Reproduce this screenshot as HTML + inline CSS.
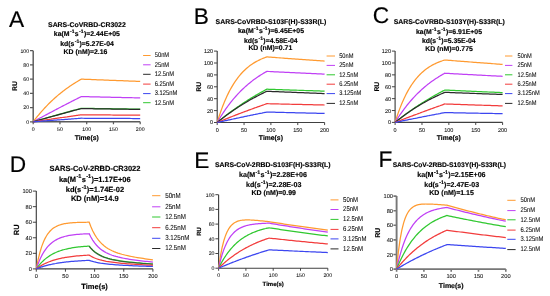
<!DOCTYPE html>
<html><head><meta charset="utf-8"><style>
html,body{margin:0;padding:0;background:#fff;width:550px;height:296px;overflow:hidden}
svg{display:block;filter:blur(0.3px)}
text{font-family:"Liberation Sans", sans-serif;stroke:currentColor;stroke-width:0.15px;text-rendering:geometricPrecision}
text.ns{stroke-width:0.08px}
</style></head><body>
<svg width="550" height="296" viewBox="0 0 550 296">
<rect width="550" height="296" fill="#fff"/>
<text x="9.08" y="26.7" font-size="22.7" fill="#000">A</text>
<text x="86.9" y="27.0" font-size="6.9" font-weight="bold" text-anchor="middle">SARS-CoVRBD-CR3022</text>
<text x="86.9" y="36.2" font-size="6.9" font-weight="bold" text-anchor="middle">ka(M<tspan dx="0.4" dy="-2.9" font-size="5.11">-1</tspan><tspan dx="0.3" dy="2.9">s</tspan><tspan dx="0.4" dy="-2.9" font-size="5.11">-1</tspan><tspan dx="0.3" dy="2.9">)=2.44E+05</tspan></text>
<text x="87" y="45.6" font-size="6.9" font-weight="bold" text-anchor="middle">kd(s<tspan dx="0.4" dy="-2.9" font-size="5.11">-1</tspan><tspan dx="0.3" dy="2.9">)=5.27E-04</tspan></text>
<text x="85.5" y="54.4" font-size="6.9" font-weight="bold" text-anchor="middle">KD (nM)=2.16</text>
<path d="M33.2,50.7 V121.8 H140.2" fill="none" stroke="#5a5a5a" stroke-width="1.45"/>
<text x="29.10" y="123.67" font-size="5.20" text-anchor="end" fill="#222" class="ns">0</text>
<text x="29.10" y="109.45" font-size="5.20" text-anchor="end" fill="#222" class="ns">20</text>
<text x="29.10" y="95.23" font-size="5.20" text-anchor="end" fill="#222" class="ns">40</text>
<text x="29.10" y="81.01" font-size="5.20" text-anchor="end" fill="#222" class="ns">60</text>
<text x="29.10" y="66.79" font-size="5.20" text-anchor="end" fill="#222" class="ns">80</text>
<text x="29.10" y="52.57" font-size="5.20" text-anchor="end" fill="#222" class="ns">100</text>
<text x="33.20" y="130.77" font-size="5.20" text-anchor="middle" fill="#222" class="ns">0</text>
<text x="59.95" y="130.77" font-size="5.20" text-anchor="middle" fill="#222" class="ns">50</text>
<text x="86.70" y="130.77" font-size="5.20" text-anchor="middle" fill="#222" class="ns">100</text>
<text x="113.45" y="130.77" font-size="5.20" text-anchor="middle" fill="#222" class="ns">150</text>
<text x="140.20" y="130.77" font-size="5.20" text-anchor="middle" fill="#222" class="ns">200</text>
<path d="M30.00,121.80 H33.2 M30.00,107.58 H33.2 M30.00,93.36 H33.2 M30.00,79.14 H33.2 M30.00,64.92 H33.2 M30.00,50.70 H33.2 M33.20,121.8 V124.36 M59.95,121.8 V124.36 M86.70,121.8 V124.36 M113.45,121.8 V124.36 M140.20,121.8 V124.36" stroke="#5a5a5a" stroke-width="1.23" fill="none"/>
<text x="86.70" y="140.3" font-size="6.8" font-weight="bold" text-anchor="middle">Time(s)</text>
<text transform="translate(16.9,86.1) rotate(-90)" x="0" y="0" font-size="6.8" font-weight="bold" text-anchor="middle">RU</text>
<path d="M33.20,121.80 L34.80,119.70 L34.98,119.47 L36.41,117.66 L36.77,117.21 L38.02,115.68 L38.55,115.03 L39.62,113.75 L40.33,112.91 L41.23,111.88 L42.12,110.86 L42.83,110.06 L43.90,108.88 L44.44,108.30 L45.68,106.96 L46.04,106.58 L47.47,105.10 L47.65,104.92 L49.25,103.30 L50.86,101.73 L51.03,101.56 L52.46,100.21 L52.82,99.87 L54.06,98.72 L54.60,98.24 L55.67,97.29 L56.38,96.66 L57.27,95.89 L58.17,95.13 L58.88,94.53 L59.95,93.65 L60.48,93.21 L61.73,92.21 L62.09,91.93 L63.52,90.82 L63.69,90.68 L65.30,89.48 L66.91,88.30 L67.08,88.17 L68.51,87.16 L68.87,86.91 L70.11,86.05 L70.65,85.69 L71.72,84.98 L72.43,84.51 L73.32,83.93 L74.22,83.37 L74.93,82.92 L76.00,82.26 L76.53,81.93 L77.78,81.18 L78.14,80.97 L79.57,80.15 L79.74,80.04 L81.35,79.14 L83.13,79.21 L84.92,79.28 L86.70,79.35 L88.48,79.42 L90.27,79.49 L92.05,79.56 L93.83,79.63 L95.62,79.71 L97.40,79.78 L99.18,79.85 L100.97,79.91 L102.75,79.98 L104.53,80.05 L106.32,80.12 L108.10,80.19 L109.88,80.26 L111.67,80.33 L113.45,80.40 L115.23,80.47 L117.02,80.54 L118.80,80.61 L120.58,80.68 L122.37,80.74 L124.15,80.81 L125.93,80.88 L127.72,80.95 L129.50,81.02 L131.28,81.09 L133.07,81.15 L134.85,81.22 L136.63,81.29 L138.42,81.36 L140.20,81.42" fill="none" stroke="#FF9A30" stroke-width="1.25" stroke-opacity="1"/>
<path d="M33.20,121.80 L34.80,120.92 L34.98,120.82 L36.41,120.05 L36.77,119.85 L38.02,119.17 L38.55,118.88 L39.62,118.30 L40.33,117.92 L41.23,117.43 L42.12,116.95 L42.83,116.57 L43.90,115.99 L44.44,115.71 L45.68,115.04 L46.04,114.85 L47.47,114.08 L47.65,113.99 L49.25,113.13 L50.86,112.28 L51.03,112.19 L52.46,111.43 L52.82,111.24 L54.06,110.58 L54.60,110.30 L55.67,109.74 L56.38,109.36 L57.27,108.90 L58.17,108.43 L58.88,108.06 L59.95,107.50 L60.48,107.22 L61.73,106.57 L62.09,106.38 L63.52,105.64 L63.69,105.55 L65.30,104.72 L66.91,103.89 L67.08,103.80 L68.51,103.07 L68.87,102.89 L70.11,102.25 L70.65,101.97 L71.72,101.43 L72.43,101.06 L73.32,100.61 L74.22,100.16 L74.93,99.80 L76.00,99.25 L76.53,98.98 L77.78,98.35 L78.14,98.17 L79.57,97.45 L79.74,97.36 L81.35,96.56 L83.13,96.60 L84.92,96.64 L86.70,96.69 L88.48,96.73 L90.27,96.77 L92.05,96.81 L93.83,96.85 L95.62,96.89 L97.40,96.94 L99.18,96.98 L100.97,97.02 L102.75,97.06 L104.53,97.10 L106.32,97.14 L108.10,97.18 L109.88,97.22 L111.67,97.26 L113.45,97.31 L115.23,97.35 L117.02,97.39 L118.80,97.43 L120.58,97.47 L122.37,97.51 L124.15,97.55 L125.93,97.59 L127.72,97.63 L129.50,97.67 L131.28,97.71 L133.07,97.75 L134.85,97.79 L136.63,97.83 L138.42,97.87 L140.20,97.91" fill="none" stroke="#C040F5" stroke-width="1.25" stroke-opacity="1"/>
<path d="M33.20,121.80 L34.80,121.33 L34.98,121.28 L36.41,120.86 L36.77,120.76 L38.02,120.39 L38.55,120.24 L39.62,119.93 L40.33,119.72 L41.23,119.46 L42.12,119.21 L42.83,119.00 L43.90,118.69 L44.44,118.54 L45.68,118.18 L46.04,118.08 L47.47,117.67 L47.65,117.62 L49.25,117.16 L50.86,116.70 L51.03,116.65 L52.46,116.25 L52.82,116.15 L54.06,115.80 L54.60,115.65 L55.67,115.34 L56.38,115.14 L57.27,114.89 L58.17,114.64 L58.88,114.44 L59.95,114.15 L60.48,114.00 L61.73,113.65 L62.09,113.55 L63.52,113.15 L63.69,113.10 L65.30,112.66 L66.91,112.22 L67.08,112.17 L68.51,111.78 L68.87,111.68 L70.11,111.34 L70.65,111.19 L71.72,110.90 L72.43,110.70 L73.32,110.46 L74.22,110.22 L74.93,110.02 L76.00,109.73 L76.53,109.59 L77.78,109.25 L78.14,109.15 L79.57,108.77 L79.74,108.72 L81.35,108.29 L83.13,108.32 L84.92,108.34 L86.70,108.37 L88.48,108.40 L90.27,108.43 L92.05,108.45 L93.83,108.48 L95.62,108.51 L97.40,108.53 L99.18,108.56 L100.97,108.58 L102.75,108.61 L104.53,108.64 L106.32,108.66 L108.10,108.69 L109.88,108.72 L111.67,108.74 L113.45,108.77 L115.23,108.79 L117.02,108.82 L118.80,108.85 L120.58,108.87 L122.37,108.90 L124.15,108.92 L125.93,108.95 L127.72,108.98 L129.50,109.00 L131.28,109.03 L133.07,109.05 L134.85,109.08 L136.63,109.10 L138.42,109.13 L140.20,109.15" fill="none" stroke="#30C830" stroke-width="1.25" stroke-opacity="1"/>
<path d="M33.20,121.80 L34.80,121.34 L34.98,121.29 L36.41,120.88 L36.77,120.78 L38.02,120.42 L38.55,120.27 L39.62,119.97 L40.33,119.76 L41.23,119.51 L42.12,119.26 L42.83,119.06 L43.90,118.76 L44.44,118.61 L45.68,118.26 L46.04,118.16 L47.47,117.76 L47.65,117.71 L49.25,117.26 L50.86,116.81 L51.03,116.76 L52.46,116.37 L52.82,116.27 L54.06,115.92 L54.60,115.78 L55.67,115.48 L56.38,115.28 L57.27,115.04 L58.17,114.79 L58.88,114.60 L59.95,114.31 L60.48,114.16 L61.73,113.82 L62.09,113.72 L63.52,113.34 L63.69,113.29 L65.30,112.85 L66.91,112.42 L67.08,112.37 L68.51,111.99 L68.87,111.89 L70.11,111.56 L70.65,111.41 L71.72,111.13 L72.43,110.94 L73.32,110.70 L74.22,110.46 L74.93,110.27 L76.00,109.99 L76.53,109.84 L77.78,109.51 L78.14,109.42 L79.57,109.04 L79.74,109.00 L81.35,108.58 L83.13,108.60 L84.92,108.63 L86.70,108.65 L88.48,108.68 L90.27,108.71 L92.05,108.73 L93.83,108.76 L95.62,108.79 L97.40,108.81 L99.18,108.84 L100.97,108.86 L102.75,108.89 L104.53,108.91 L106.32,108.94 L108.10,108.97 L109.88,108.99 L111.67,109.02 L113.45,109.04 L115.23,109.07 L117.02,109.09 L118.80,109.12 L120.58,109.14 L122.37,109.17 L124.15,109.20 L125.93,109.22 L127.72,109.25 L129.50,109.27 L131.28,109.30 L133.07,109.32 L134.85,109.35 L136.63,109.37 L138.42,109.40 L140.20,109.42" fill="none" stroke="#2a2a2a" stroke-width="1.25" stroke-opacity="1"/>
<path d="M33.20,121.80 L34.80,121.56 L34.98,121.53 L36.41,121.31 L36.77,121.26 L38.02,121.07 L38.55,120.99 L39.62,120.82 L40.33,120.72 L41.23,120.58 L42.12,120.45 L42.83,120.34 L43.90,120.18 L44.44,120.10 L45.68,119.91 L46.04,119.86 L47.47,119.65 L47.65,119.62 L49.25,119.38 L50.86,119.15 L51.03,119.12 L52.46,118.91 L52.82,118.86 L54.06,118.67 L54.60,118.59 L55.67,118.44 L56.38,118.33 L57.27,118.20 L58.17,118.07 L58.88,117.97 L59.95,117.81 L60.48,117.73 L61.73,117.55 L62.09,117.50 L63.52,117.29 L63.69,117.27 L65.30,117.04 L66.91,116.81 L67.08,116.78 L68.51,116.58 L68.87,116.53 L70.11,116.35 L70.65,116.27 L71.72,116.12 L72.43,116.02 L73.32,115.89 L74.22,115.76 L74.93,115.66 L76.00,115.51 L76.53,115.44 L77.78,115.26 L78.14,115.21 L79.57,115.01 L79.74,114.99 L81.35,114.76 L83.13,114.78 L84.92,114.79 L86.70,114.80 L88.48,114.82 L90.27,114.83 L92.05,114.85 L93.83,114.86 L95.62,114.87 L97.40,114.89 L99.18,114.90 L100.97,114.91 L102.75,114.93 L104.53,114.94 L106.32,114.96 L108.10,114.97 L109.88,114.98 L111.67,115.00 L113.45,115.01 L115.23,115.02 L117.02,115.04 L118.80,115.05 L120.58,115.06 L122.37,115.08 L124.15,115.09 L125.93,115.10 L127.72,115.12 L129.50,115.13 L131.28,115.14 L133.07,115.16 L134.85,115.17 L136.63,115.18 L138.42,115.20 L140.20,115.21" fill="none" stroke="#F23C3C" stroke-width="1.25" stroke-opacity="1"/>
<path d="M33.20,121.80 L34.80,121.68 L34.98,121.66 L36.41,121.55 L36.77,121.53 L38.02,121.43 L38.55,121.39 L39.62,121.31 L40.33,121.25 L41.23,121.19 L42.12,121.12 L42.83,121.06 L43.90,120.98 L44.44,120.94 L45.68,120.85 L46.04,120.82 L47.47,120.71 L47.65,120.70 L49.25,120.58 L50.86,120.46 L51.03,120.45 L52.46,120.34 L52.82,120.31 L54.06,120.22 L54.60,120.18 L55.67,120.10 L56.38,120.05 L57.27,119.98 L58.17,119.92 L58.88,119.86 L59.95,119.79 L60.48,119.75 L61.73,119.65 L62.09,119.63 L63.52,119.52 L63.69,119.51 L65.30,119.39 L66.91,119.28 L67.08,119.27 L68.51,119.16 L68.87,119.14 L70.11,119.05 L70.65,119.01 L71.72,118.93 L72.43,118.88 L73.32,118.82 L74.22,118.75 L74.93,118.70 L76.00,118.62 L76.53,118.59 L77.78,118.50 L78.14,118.47 L79.57,118.37 L79.74,118.36 L81.35,118.24 L83.13,118.25 L84.92,118.26 L86.70,118.27 L88.48,118.28 L90.27,118.29 L92.05,118.30 L93.83,118.31 L95.62,118.32 L97.40,118.33 L99.18,118.34 L100.97,118.35 L102.75,118.36 L104.53,118.37 L106.32,118.38 L108.10,118.38 L109.88,118.39 L111.67,118.40 L113.45,118.41 L115.23,118.42 L117.02,118.43 L118.80,118.44 L120.58,118.45 L122.37,118.46 L124.15,118.47 L125.93,118.47 L127.72,118.48 L129.50,118.49 L131.28,118.50 L133.07,118.51 L134.85,118.52 L136.63,118.53 L138.42,118.54 L140.20,118.54" fill="none" stroke="#3C46F0" stroke-width="1.25" stroke-opacity="1"/>
<path d="M143.1,55.5 H150.6" stroke="#FF9A30" stroke-width="1.0"/>
<text x="154.70" y="57.31" font-size="6.84" textLength="14.51" lengthAdjust="spacingAndGlyphs" fill="#111" class="ns">50nM</text>
<path d="M143.1,64.8 H150.6" stroke="#C040F5" stroke-width="1.0"/>
<text x="154.70" y="66.61" font-size="6.84" textLength="14.51" lengthAdjust="spacingAndGlyphs" fill="#111" class="ns">25nM</text>
<path d="M143.1,74.3 H150.6" stroke="#2a2a2a" stroke-width="1.0"/>
<text x="154.70" y="76.11" font-size="6.84" textLength="19.34" lengthAdjust="spacingAndGlyphs" fill="#111" class="ns">12.5nM</text>
<path d="M143.1,84.1 H150.6" stroke="#F23C3C" stroke-width="1.0"/>
<text x="154.70" y="85.91" font-size="6.84" textLength="19.34" lengthAdjust="spacingAndGlyphs" fill="#111" class="ns">6.25nM</text>
<path d="M143.1,93.6 H150.6" stroke="#3C46F0" stroke-width="1.0"/>
<text x="154.70" y="95.41" font-size="6.84" textLength="22.57" lengthAdjust="spacingAndGlyphs" fill="#111" class="ns">3.125nM</text>
<path d="M143.1,102.7 H150.6" stroke="#30C830" stroke-width="1.0"/>
<text x="154.70" y="104.51" font-size="6.84" textLength="19.34" lengthAdjust="spacingAndGlyphs" fill="#111" class="ns">12.5nM</text>
<text x="193.85" y="23.5" font-size="22.7" fill="#000">B</text>
<text x="270.9" y="23.5" font-size="6.9" font-weight="bold" text-anchor="middle">SARS-CoVRBD-S103F(H)-S33R(L)</text>
<text x="271" y="33.1" font-size="6.9" font-weight="bold" text-anchor="middle">ka(M<tspan dx="0.4" dy="-2.9" font-size="5.11">-1</tspan><tspan dx="0.3" dy="2.9">s</tspan><tspan dx="0.4" dy="-2.9" font-size="5.11">-1</tspan><tspan dx="0.3" dy="2.9">)=6.45E+05</tspan></text>
<text x="270.8" y="42.5" font-size="6.9" font-weight="bold" text-anchor="middle">kd(s<tspan dx="0.4" dy="-2.9" font-size="5.11">-1</tspan><tspan dx="0.3" dy="2.9">)=4.58E-04</tspan></text>
<text x="270.3" y="50.3" font-size="6.9" font-weight="bold" text-anchor="middle">KD (nM)=0.71</text>
<path d="M217.2,51.1 V122.5 H324.6" fill="none" stroke="#404040" stroke-width="1.15"/>
<text x="213.10" y="124.48" font-size="5.51" text-anchor="end" fill="#222" class="ns">0</text>
<text x="213.10" y="112.58" font-size="5.51" text-anchor="end" fill="#222" class="ns">20</text>
<text x="213.10" y="100.68" font-size="5.51" text-anchor="end" fill="#222" class="ns">40</text>
<text x="213.10" y="88.78" font-size="5.51" text-anchor="end" fill="#222" class="ns">60</text>
<text x="213.10" y="76.88" font-size="5.51" text-anchor="end" fill="#222" class="ns">80</text>
<text x="213.10" y="64.98" font-size="5.51" text-anchor="end" fill="#222" class="ns">100</text>
<text x="213.10" y="53.08" font-size="5.51" text-anchor="end" fill="#222" class="ns">120</text>
<text x="217.20" y="131.78" font-size="5.51" text-anchor="middle" fill="#222" class="ns">0</text>
<text x="244.05" y="131.78" font-size="5.51" text-anchor="middle" fill="#222" class="ns">50</text>
<text x="270.90" y="131.78" font-size="5.51" text-anchor="middle" fill="#222" class="ns">100</text>
<text x="297.75" y="131.78" font-size="5.51" text-anchor="middle" fill="#222" class="ns">150</text>
<text x="324.60" y="131.78" font-size="5.51" text-anchor="middle" fill="#222" class="ns">200</text>
<path d="M214.00,122.50 H217.2 M214.00,110.60 H217.2 M214.00,98.70 H217.2 M214.00,86.80 H217.2 M214.00,74.90 H217.2 M214.00,63.00 H217.2 M214.00,51.10 H217.2 M217.20,122.5 V125.06 M244.05,122.5 V125.06 M270.90,122.5 V125.06 M297.75,122.5 V125.06 M324.60,122.5 V125.06" stroke="#404040" stroke-width="0.98" fill="none"/>
<text x="270.90" y="140.3" font-size="6.8" font-weight="bold" text-anchor="middle">Time(s)</text>
<text transform="translate(201.0,86.75) rotate(-90)" x="0" y="0" font-size="6.8" font-weight="bold" text-anchor="middle">RU</text>
<path d="M217.20,122.50 L218.86,117.18 L218.99,116.76 L220.51,112.24 L220.78,111.47 L222.17,107.65 L222.57,106.59 L223.82,103.40 L224.36,102.09 L225.48,99.45 L226.15,97.94 L227.13,95.79 L227.94,94.11 L228.79,92.40 L229.73,90.58 L230.45,89.25 L231.52,87.33 L232.10,86.33 L233.31,84.33 L233.76,83.62 L235.10,81.57 L235.41,81.11 L236.89,79.02 L237.07,78.78 L238.68,76.68 L238.72,76.62 L240.38,74.62 L240.47,74.52 L242.04,72.77 L242.26,72.53 L243.69,71.05 L244.05,70.70 L245.35,69.46 L245.84,69.01 L247.00,67.98 L247.63,67.46 L248.66,66.62 L249.42,66.03 L250.31,65.36 L251.21,64.71 L251.97,64.19 L253.00,63.50 L253.63,63.11 L254.79,62.39 L255.28,62.10 L256.58,61.37 L256.94,61.18 L258.37,60.43 L258.59,60.32 L260.16,59.57 L260.25,59.53 L261.91,58.80 L261.95,58.78 L263.56,58.13 L263.74,58.06 L265.22,57.51 L265.53,57.39 L266.87,56.93 L267.32,56.96 L269.11,57.09 L270.90,57.23 L272.69,57.36 L274.48,57.49 L276.27,57.62 L278.06,57.75 L279.85,57.87 L281.64,58.00 L283.43,58.13 L285.22,58.26 L287.01,58.39 L288.80,58.52 L290.59,58.65 L292.38,58.77 L294.17,58.90 L295.96,59.03 L297.75,59.15 L299.54,59.28 L301.33,59.41 L303.12,59.53 L304.91,59.66 L306.70,59.78 L308.49,59.91 L310.28,60.04 L312.07,60.16 L313.86,60.28 L315.65,60.41 L317.44,60.53 L319.23,60.66 L321.02,60.78 L322.81,60.90 L324.60,61.03" fill="none" stroke="#FF9A30" stroke-width="1.25" stroke-opacity="1"/>
<path d="M217.20,122.50 L218.86,119.68 L218.99,119.46 L220.51,116.97 L220.78,116.54 L222.17,114.36 L222.57,113.74 L223.82,111.85 L224.36,111.05 L225.48,109.43 L226.15,108.47 L227.13,107.10 L227.94,106.00 L228.79,104.87 L229.73,103.63 L230.45,102.71 L231.52,101.36 L232.10,100.64 L233.31,99.18 L233.76,98.65 L235.10,97.09 L235.41,96.73 L236.89,95.08 L237.07,94.88 L238.68,93.16 L238.72,93.11 L240.38,91.40 L240.47,91.31 L242.04,89.76 L242.26,89.54 L243.69,88.18 L244.05,87.84 L245.35,86.65 L245.84,86.21 L247.00,85.19 L247.63,84.65 L248.66,83.78 L249.42,83.15 L250.31,82.42 L251.21,81.71 L251.97,81.12 L253.00,80.33 L253.63,79.86 L254.79,79.01 L255.28,78.66 L256.58,77.74 L256.94,77.49 L258.37,76.53 L258.59,76.38 L260.16,75.36 L260.25,75.30 L261.91,74.27 L261.95,74.24 L263.56,73.27 L263.74,73.16 L265.22,72.31 L265.53,72.13 L266.87,71.39 L267.32,71.41 L269.11,71.50 L270.90,71.58 L272.69,71.67 L274.48,71.76 L276.27,71.84 L278.06,71.93 L279.85,72.02 L281.64,72.10 L283.43,72.19 L285.22,72.27 L287.01,72.36 L288.80,72.44 L290.59,72.53 L292.38,72.61 L294.17,72.70 L295.96,72.78 L297.75,72.87 L299.54,72.95 L301.33,73.04 L303.12,73.12 L304.91,73.20 L306.70,73.29 L308.49,73.37 L310.28,73.45 L312.07,73.54 L313.86,73.62 L315.65,73.70 L317.44,73.79 L319.23,73.87 L321.02,73.95 L322.81,74.03 L324.60,74.12" fill="none" stroke="#C040F5" stroke-width="1.25" stroke-opacity="1"/>
<path d="M217.20,122.50 L218.86,121.12 L218.99,121.01 L220.51,119.77 L220.78,119.55 L222.17,118.43 L222.57,118.11 L223.82,117.12 L224.36,116.70 L225.48,115.82 L226.15,115.31 L227.13,114.55 L227.94,113.94 L228.79,113.29 L229.73,112.59 L230.45,112.06 L231.52,111.27 L232.10,110.84 L233.31,109.97 L233.76,109.64 L235.10,108.69 L235.41,108.46 L236.89,107.43 L237.07,107.30 L238.68,106.19 L238.72,106.16 L240.38,105.03 L240.47,104.97 L242.04,103.92 L242.26,103.77 L243.69,102.83 L244.05,102.60 L245.35,101.75 L245.84,101.44 L247.00,100.69 L247.63,100.30 L248.66,99.65 L249.42,99.18 L250.31,98.62 L251.21,98.08 L251.97,97.61 L253.00,96.99 L253.63,96.62 L254.79,95.93 L255.28,95.64 L256.58,94.88 L256.94,94.67 L258.37,93.85 L258.59,93.72 L260.16,92.83 L260.25,92.78 L261.91,91.86 L261.95,91.84 L263.56,90.95 L263.74,90.86 L265.22,90.06 L265.53,89.89 L266.87,89.18 L267.32,89.20 L269.11,89.26 L270.90,89.32 L272.69,89.39 L274.48,89.45 L276.27,89.51 L278.06,89.57 L279.85,89.64 L281.64,89.70 L283.43,89.76 L285.22,89.82 L287.01,89.88 L288.80,89.95 L290.59,90.01 L292.38,90.07 L294.17,90.13 L295.96,90.19 L297.75,90.25 L299.54,90.32 L301.33,90.38 L303.12,90.44 L304.91,90.50 L306.70,90.56 L308.49,90.62 L310.28,90.68 L312.07,90.74 L313.86,90.80 L315.65,90.86 L317.44,90.92 L319.23,90.98 L321.02,91.04 L322.81,91.10 L324.60,91.16" fill="none" stroke="#30C830" stroke-width="1.25" stroke-opacity="1"/>
<path d="M217.20,122.50 L218.86,121.16 L218.99,121.05 L220.51,119.84 L220.78,119.62 L222.17,118.54 L222.57,118.23 L223.82,117.27 L224.36,116.86 L225.48,116.02 L226.15,115.52 L227.13,114.79 L227.94,114.21 L228.79,113.59 L229.73,112.92 L230.45,112.41 L231.52,111.66 L232.10,111.25 L233.31,110.42 L233.76,110.11 L235.10,109.21 L235.41,109.00 L236.89,108.02 L237.07,107.90 L238.68,106.85 L238.72,106.82 L240.38,105.77 L240.47,105.71 L242.04,104.73 L242.26,104.59 L243.69,103.71 L244.05,103.49 L245.35,102.71 L245.84,102.42 L247.00,101.73 L247.63,101.36 L248.66,100.76 L249.42,100.33 L250.31,99.82 L251.21,99.31 L251.97,98.89 L253.00,98.32 L253.63,97.98 L254.79,97.35 L255.28,97.08 L256.58,96.39 L256.94,96.21 L258.37,95.46 L258.59,95.34 L260.16,94.54 L260.25,94.50 L261.91,93.67 L261.95,93.64 L263.56,92.85 L263.74,92.76 L265.22,92.05 L265.53,91.90 L266.87,91.26 L267.32,91.28 L269.11,91.36 L270.90,91.43 L272.69,91.51 L274.48,91.58 L276.27,91.65 L278.06,91.73 L279.85,91.80 L281.64,91.87 L283.43,91.95 L285.22,92.02 L287.01,92.09 L288.80,92.17 L290.59,92.24 L292.38,92.31 L294.17,92.39 L295.96,92.46 L297.75,92.53 L299.54,92.60 L301.33,92.67 L303.12,92.74 L304.91,92.82 L306.70,92.89 L308.49,92.96 L310.28,93.03 L312.07,93.10 L313.86,93.17 L315.65,93.24 L317.44,93.31 L319.23,93.38 L321.02,93.45 L322.81,93.52 L324.60,93.59" fill="none" stroke="#2a2a2a" stroke-width="1.25" stroke-opacity="1"/>
<path d="M217.20,122.50 L218.86,121.82 L218.99,121.76 L220.51,121.14 L220.78,121.03 L222.17,120.46 L222.57,120.30 L223.82,119.79 L224.36,119.57 L225.48,119.12 L226.15,118.85 L227.13,118.46 L227.94,118.13 L228.79,117.80 L229.73,117.42 L230.45,117.14 L231.52,116.72 L232.10,116.49 L233.31,116.02 L233.76,115.84 L235.10,115.32 L235.41,115.20 L236.89,114.63 L237.07,114.56 L238.68,113.94 L238.72,113.92 L240.38,113.29 L240.47,113.26 L242.04,112.66 L242.26,112.58 L243.69,112.04 L244.05,111.91 L245.35,111.42 L245.84,111.24 L247.00,110.80 L247.63,110.57 L248.66,110.19 L249.42,109.91 L250.31,109.58 L251.21,109.26 L251.97,108.98 L253.00,108.60 L253.63,108.38 L254.79,107.96 L255.28,107.78 L256.58,107.31 L256.94,107.19 L258.37,106.67 L258.59,106.60 L260.16,106.04 L260.25,106.01 L261.91,105.43 L261.95,105.41 L263.56,104.85 L263.74,104.78 L265.22,104.27 L265.53,104.16 L266.87,103.70 L267.32,103.71 L269.11,103.75 L270.90,103.79 L272.69,103.83 L274.48,103.88 L276.27,103.92 L278.06,103.96 L279.85,104.00 L281.64,104.04 L283.43,104.08 L285.22,104.12 L287.01,104.16 L288.80,104.21 L290.59,104.25 L292.38,104.29 L294.17,104.33 L295.96,104.37 L297.75,104.41 L299.54,104.45 L301.33,104.49 L303.12,104.53 L304.91,104.57 L306.70,104.61 L308.49,104.65 L310.28,104.69 L312.07,104.73 L313.86,104.77 L315.65,104.81 L317.44,104.85 L319.23,104.89 L321.02,104.93 L322.81,104.97 L324.60,105.00" fill="none" stroke="#F23C3C" stroke-width="1.25" stroke-opacity="1"/>
<path d="M217.20,122.50 L218.86,122.14 L218.99,122.11 L220.51,121.77 L220.78,121.71 L222.17,121.41 L222.57,121.32 L223.82,121.05 L224.36,120.93 L225.48,120.69 L226.15,120.54 L227.13,120.33 L227.94,120.15 L228.79,119.97 L229.73,119.77 L230.45,119.61 L231.52,119.38 L232.10,119.26 L233.31,119.00 L233.76,118.90 L235.10,118.61 L235.41,118.55 L236.89,118.23 L237.07,118.19 L238.68,117.85 L238.72,117.84 L240.38,117.49 L240.47,117.47 L242.04,117.14 L242.26,117.10 L243.69,116.79 L244.05,116.72 L245.35,116.45 L245.84,116.34 L247.00,116.10 L247.63,115.97 L248.66,115.76 L249.42,115.60 L250.31,115.41 L251.21,115.23 L251.97,115.07 L253.00,114.86 L253.63,114.73 L254.79,114.49 L255.28,114.39 L256.58,114.12 L256.94,114.05 L258.37,113.75 L258.59,113.71 L260.16,113.39 L260.25,113.37 L261.91,113.03 L261.95,113.02 L263.56,112.70 L263.74,112.66 L265.22,112.36 L265.53,112.30 L266.87,112.03 L267.32,112.04 L269.11,112.09 L270.90,112.13 L272.69,112.18 L274.48,112.23 L276.27,112.27 L278.06,112.32 L279.85,112.37 L281.64,112.41 L283.43,112.46 L285.22,112.50 L287.01,112.55 L288.80,112.59 L290.59,112.64 L292.38,112.68 L294.17,112.73 L295.96,112.77 L297.75,112.82 L299.54,112.86 L301.33,112.90 L303.12,112.95 L304.91,112.99 L306.70,113.03 L308.49,113.08 L310.28,113.12 L312.07,113.16 L313.86,113.20 L315.65,113.24 L317.44,113.29 L319.23,113.33 L321.02,113.37 L322.81,113.41 L324.60,113.45" fill="none" stroke="#3C46F0" stroke-width="1.25" stroke-opacity="1"/>
<path d="M326.6,56 H335" stroke="#FF9A30" stroke-width="1.0"/>
<text x="339.20" y="57.78" font-size="6.73" textLength="14.26" lengthAdjust="spacingAndGlyphs" fill="#111" class="ns">50nM</text>
<path d="M326.6,65.4 H335" stroke="#C040F5" stroke-width="1.0"/>
<text x="339.20" y="67.18" font-size="6.73" textLength="14.26" lengthAdjust="spacingAndGlyphs" fill="#111" class="ns">25nM</text>
<path d="M326.6,74.8 H335" stroke="#30C830" stroke-width="1.0"/>
<text x="339.20" y="76.58" font-size="6.73" textLength="19.01" lengthAdjust="spacingAndGlyphs" fill="#111" class="ns">12.5nM</text>
<path d="M326.6,84.2 H335" stroke="#F23C3C" stroke-width="1.0"/>
<text x="339.20" y="85.98" font-size="6.73" textLength="19.01" lengthAdjust="spacingAndGlyphs" fill="#111" class="ns">6.25nM</text>
<path d="M326.6,93.6 H335" stroke="#3C46F0" stroke-width="1.0"/>
<text x="339.20" y="95.38" font-size="6.73" textLength="22.18" lengthAdjust="spacingAndGlyphs" fill="#111" class="ns">3.125nM</text>
<path d="M326.6,103.4 H335" stroke="#2a2a2a" stroke-width="1.0"/>
<text x="339.20" y="105.18" font-size="6.73" textLength="19.01" lengthAdjust="spacingAndGlyphs" fill="#111" class="ns">12.5nM</text>
<text x="372.76" y="23.3" font-size="22.7" fill="#000">C</text>
<text x="449.2" y="24.1" font-size="6.9" font-weight="bold" text-anchor="middle">SARS-CoVRBD-S103Y(H)-S33R(L)</text>
<text x="449" y="33.8" font-size="6.9" font-weight="bold" text-anchor="middle">ka(M<tspan dx="0.4" dy="-2.9" font-size="5.11">-1</tspan><tspan dx="0.3" dy="2.9">s</tspan><tspan dx="0.4" dy="-2.9" font-size="5.11">-1</tspan><tspan dx="0.3" dy="2.9">)=6.91E+05</tspan></text>
<text x="448.8" y="43.3" font-size="6.9" font-weight="bold" text-anchor="middle">kd(s<tspan dx="0.4" dy="-2.9" font-size="5.11">-1</tspan><tspan dx="0.3" dy="2.9">)=5.35E-04</tspan></text>
<text x="449" y="51.0" font-size="6.9" font-weight="bold" text-anchor="middle">KD (nM)=0.775</text>
<path d="M395.1,51.1 V122.4 H502.6" fill="none" stroke="#404040" stroke-width="1.15"/>
<text x="391.00" y="124.38" font-size="5.51" text-anchor="end" fill="#222" class="ns">0</text>
<text x="391.00" y="112.50" font-size="5.51" text-anchor="end" fill="#222" class="ns">20</text>
<text x="391.00" y="100.62" font-size="5.51" text-anchor="end" fill="#222" class="ns">40</text>
<text x="391.00" y="88.73" font-size="5.51" text-anchor="end" fill="#222" class="ns">60</text>
<text x="391.00" y="76.85" font-size="5.51" text-anchor="end" fill="#222" class="ns">80</text>
<text x="391.00" y="64.97" font-size="5.51" text-anchor="end" fill="#222" class="ns">100</text>
<text x="391.00" y="53.08" font-size="5.51" text-anchor="end" fill="#222" class="ns">120</text>
<text x="395.10" y="131.78" font-size="5.51" text-anchor="middle" fill="#222" class="ns">0</text>
<text x="421.98" y="131.78" font-size="5.51" text-anchor="middle" fill="#222" class="ns">50</text>
<text x="448.85" y="131.78" font-size="5.51" text-anchor="middle" fill="#222" class="ns">100</text>
<text x="475.73" y="131.78" font-size="5.51" text-anchor="middle" fill="#222" class="ns">150</text>
<text x="502.60" y="131.78" font-size="5.51" text-anchor="middle" fill="#222" class="ns">200</text>
<path d="M391.90,122.40 H395.1 M391.90,110.52 H395.1 M391.90,98.63 H395.1 M391.90,86.75 H395.1 M391.90,74.87 H395.1 M391.90,62.98 H395.1 M391.90,51.10 H395.1 M395.10,122.4 V124.96 M421.98,122.4 V124.96 M448.85,122.4 V124.96 M475.73,122.4 V124.96 M502.60,122.4 V124.96" stroke="#404040" stroke-width="0.98" fill="none"/>
<text x="448.85" y="140.3" font-size="6.8" font-weight="bold" text-anchor="middle">Time(s)</text>
<text transform="translate(378.6,86.7) rotate(-90)" x="0" y="0" font-size="6.8" font-weight="bold" text-anchor="middle">RU</text>
<path d="M395.10,122.40 L396.76,117.18 L396.89,116.78 L398.41,112.36 L398.68,111.61 L400.07,107.89 L400.48,106.86 L401.73,103.76 L402.27,102.49 L403.39,99.94 L404.06,98.48 L405.04,96.41 L405.85,94.79 L406.70,93.15 L407.64,91.40 L408.36,90.13 L409.43,88.29 L410.02,87.34 L411.23,85.43 L411.67,84.76 L413.02,82.81 L413.33,82.37 L414.81,80.40 L414.99,80.17 L416.60,78.19 L416.64,78.13 L418.30,76.25 L418.39,76.15 L419.96,74.52 L420.18,74.29 L421.62,72.91 L421.98,72.58 L423.27,71.43 L423.77,71.01 L424.93,70.06 L425.56,69.57 L426.59,68.80 L427.35,68.25 L428.25,67.64 L429.14,67.05 L429.90,66.56 L430.93,65.94 L431.56,65.57 L432.73,64.92 L433.22,64.66 L434.52,64.00 L434.88,63.82 L436.31,63.15 L436.53,63.05 L438.10,62.37 L438.19,62.33 L439.85,61.68 L439.89,61.66 L441.50,61.08 L441.68,61.01 L443.16,60.52 L443.48,60.42 L444.82,60.01 L445.27,60.05 L447.06,60.19 L448.85,60.33 L450.64,60.47 L452.43,60.61 L454.23,60.75 L456.02,60.89 L457.81,61.03 L459.60,61.17 L461.39,61.31 L463.18,61.45 L464.98,61.58 L466.77,61.72 L468.56,61.86 L470.35,62.00 L472.14,62.13 L473.93,62.27 L475.73,62.40 L477.52,62.54 L479.31,62.68 L481.10,62.81 L482.89,62.95 L484.68,63.08 L486.48,63.22 L488.27,63.35 L490.06,63.48 L491.85,63.62 L493.64,63.75 L495.43,63.88 L497.23,64.01 L499.02,64.15 L500.81,64.28 L502.60,64.41" fill="none" stroke="#FF9A30" stroke-width="1.25" stroke-opacity="1"/>
<path d="M395.10,122.40 L396.76,119.74 L396.89,119.53 L398.41,117.17 L398.68,116.77 L400.07,114.70 L400.48,114.11 L401.73,112.32 L402.27,111.56 L403.39,110.02 L404.06,109.11 L405.04,107.81 L405.85,106.76 L406.70,105.68 L407.64,104.50 L408.36,103.62 L409.43,102.33 L410.02,101.64 L411.23,100.24 L411.67,99.73 L413.02,98.24 L413.33,97.89 L414.81,96.31 L414.99,96.12 L416.60,94.46 L416.64,94.41 L418.30,92.77 L418.39,92.68 L419.96,91.18 L420.18,90.97 L421.62,89.65 L421.98,89.33 L423.27,88.18 L423.77,87.75 L424.93,86.76 L425.56,86.24 L426.59,85.39 L427.35,84.78 L428.25,84.08 L429.14,83.38 L429.90,82.81 L430.93,82.04 L431.56,81.58 L432.73,80.75 L433.22,80.40 L434.52,79.51 L434.88,79.27 L436.31,78.32 L436.53,78.17 L438.10,77.17 L438.19,77.12 L439.85,76.10 L439.89,76.07 L441.50,75.12 L441.68,75.01 L443.16,74.17 L443.48,74.00 L444.82,73.26 L445.27,73.29 L447.06,73.39 L448.85,73.48 L450.64,73.58 L452.43,73.68 L454.23,73.78 L456.02,73.87 L457.81,73.97 L459.60,74.07 L461.39,74.16 L463.18,74.26 L464.98,74.36 L466.77,74.45 L468.56,74.55 L470.35,74.64 L472.14,74.74 L473.93,74.83 L475.73,74.93 L477.52,75.02 L479.31,75.12 L481.10,75.21 L482.89,75.31 L484.68,75.40 L486.48,75.50 L488.27,75.59 L490.06,75.68 L491.85,75.78 L493.64,75.87 L495.43,75.96 L497.23,76.05 L499.02,76.15 L500.81,76.24 L502.60,76.33" fill="none" stroke="#C040F5" stroke-width="1.25" stroke-opacity="1"/>
<path d="M395.10,122.40 L396.76,121.06 L396.89,120.95 L398.41,119.74 L398.68,119.53 L400.07,118.45 L400.48,118.14 L401.73,117.17 L402.27,116.76 L403.39,115.91 L404.06,115.41 L405.04,114.67 L405.85,114.08 L406.70,113.45 L407.64,112.77 L408.36,112.25 L409.43,111.48 L410.02,111.07 L411.23,110.22 L411.67,109.91 L413.02,108.97 L413.33,108.76 L414.81,107.75 L414.99,107.63 L416.60,106.55 L416.64,106.52 L418.30,105.42 L418.39,105.36 L419.96,104.35 L420.18,104.20 L421.62,103.28 L421.98,103.06 L423.27,102.24 L423.77,101.93 L424.93,101.21 L425.56,100.82 L426.59,100.20 L427.35,99.73 L428.25,99.20 L429.14,98.66 L429.90,98.21 L430.93,97.61 L431.56,97.25 L432.73,96.57 L433.22,96.29 L434.52,95.56 L434.88,95.35 L436.31,94.55 L436.53,94.43 L438.10,93.57 L438.19,93.52 L439.85,92.62 L439.89,92.60 L441.50,91.74 L441.68,91.65 L443.16,90.87 L443.48,90.71 L444.82,90.02 L445.27,90.04 L447.06,90.12 L448.85,90.21 L450.64,90.29 L452.43,90.37 L454.23,90.46 L456.02,90.54 L457.81,90.62 L459.60,90.71 L461.39,90.79 L463.18,90.87 L464.98,90.95 L466.77,91.03 L468.56,91.11 L470.35,91.20 L472.14,91.28 L473.93,91.36 L475.73,91.44 L477.52,91.52 L479.31,91.60 L481.10,91.68 L482.89,91.76 L484.68,91.84 L486.48,91.92 L488.27,92.00 L490.06,92.08 L491.85,92.15 L493.64,92.23 L495.43,92.31 L497.23,92.39 L499.02,92.47 L500.81,92.54 L502.60,92.62" fill="none" stroke="#30C830" stroke-width="1.25" stroke-opacity="1"/>
<path d="M395.10,122.40 L396.76,121.05 L396.89,120.95 L398.41,119.74 L398.68,119.52 L400.07,118.45 L400.48,118.14 L401.73,117.18 L402.27,116.78 L403.39,115.95 L404.06,115.45 L405.04,114.74 L405.85,114.16 L406.70,113.56 L407.64,112.90 L408.36,112.40 L409.43,111.66 L410.02,111.26 L411.23,110.45 L411.67,110.16 L413.02,109.27 L413.33,109.07 L414.81,108.12 L414.99,108.01 L416.60,107.00 L416.64,106.97 L418.30,105.95 L418.39,105.90 L419.96,104.96 L420.18,104.82 L421.62,103.98 L421.98,103.77 L423.27,103.03 L423.77,102.75 L424.93,102.09 L425.56,101.75 L426.59,101.18 L427.35,100.77 L428.25,100.29 L429.14,99.81 L429.90,99.41 L430.93,98.88 L431.56,98.56 L432.73,97.97 L433.22,97.72 L434.52,97.07 L434.88,96.90 L436.31,96.20 L436.53,96.10 L438.10,95.35 L438.19,95.31 L439.85,94.54 L439.89,94.52 L441.50,93.79 L441.68,93.71 L443.16,93.06 L443.48,92.92 L444.82,92.34 L445.27,92.35 L447.06,92.42 L448.85,92.49 L450.64,92.56 L452.43,92.63 L454.23,92.70 L456.02,92.76 L457.81,92.83 L459.60,92.90 L461.39,92.97 L463.18,93.04 L464.98,93.10 L466.77,93.17 L468.56,93.24 L470.35,93.30 L472.14,93.37 L473.93,93.44 L475.73,93.50 L477.52,93.57 L479.31,93.64 L481.10,93.70 L482.89,93.77 L484.68,93.84 L486.48,93.90 L488.27,93.97 L490.06,94.03 L491.85,94.10 L493.64,94.16 L495.43,94.23 L497.23,94.29 L499.02,94.36 L500.81,94.42 L502.60,94.48" fill="none" stroke="#2a2a2a" stroke-width="1.25" stroke-opacity="1"/>
<path d="M395.10,122.40 L396.76,121.76 L396.89,121.71 L398.41,121.12 L398.68,121.01 L400.07,120.48 L400.48,120.33 L401.73,119.84 L402.27,119.64 L403.39,119.21 L404.06,118.95 L405.04,118.58 L405.85,118.27 L406.70,117.95 L407.64,117.59 L408.36,117.32 L409.43,116.91 L410.02,116.69 L411.23,116.24 L411.67,116.07 L413.02,115.57 L413.33,115.45 L414.81,114.89 L414.99,114.83 L416.60,114.23 L416.64,114.21 L418.30,113.59 L418.39,113.56 L419.96,112.98 L420.18,112.89 L421.62,112.36 L421.98,112.23 L423.27,111.75 L423.77,111.57 L424.93,111.14 L425.56,110.91 L426.59,110.54 L427.35,110.26 L428.25,109.93 L429.14,109.61 L429.90,109.33 L430.93,108.95 L431.56,108.73 L432.73,108.31 L433.22,108.13 L434.52,107.66 L434.88,107.53 L436.31,107.01 L436.53,106.93 L438.10,106.37 L438.19,106.34 L439.85,105.75 L439.89,105.73 L441.50,105.16 L441.68,105.09 L443.16,104.57 L443.48,104.46 L444.82,103.98 L445.27,104.00 L447.06,104.06 L448.85,104.12 L450.64,104.18 L452.43,104.24 L454.23,104.30 L456.02,104.36 L457.81,104.42 L459.60,104.49 L461.39,104.55 L463.18,104.61 L464.98,104.67 L466.77,104.73 L468.56,104.78 L470.35,104.84 L472.14,104.90 L473.93,104.96 L475.73,105.02 L477.52,105.08 L479.31,105.14 L481.10,105.19 L482.89,105.25 L484.68,105.31 L486.48,105.37 L488.27,105.42 L490.06,105.48 L491.85,105.54 L493.64,105.60 L495.43,105.65 L497.23,105.71 L499.02,105.76 L500.81,105.82 L502.60,105.88" fill="none" stroke="#F23C3C" stroke-width="1.25" stroke-opacity="1"/>
<path d="M395.10,122.40 L396.76,122.06 L396.89,122.03 L398.41,121.72 L398.68,121.66 L400.07,121.38 L400.48,121.30 L401.73,121.04 L402.27,120.93 L403.39,120.70 L404.06,120.57 L405.04,120.37 L405.85,120.20 L406.70,120.03 L407.64,119.84 L408.36,119.70 L409.43,119.48 L410.02,119.36 L411.23,119.12 L411.67,119.03 L413.02,118.76 L413.33,118.70 L414.81,118.41 L414.99,118.37 L416.60,118.05 L416.64,118.04 L418.30,117.71 L418.39,117.69 L419.96,117.38 L420.18,117.34 L421.62,117.06 L421.98,116.99 L423.27,116.73 L423.77,116.64 L424.93,116.41 L425.56,116.29 L426.59,116.09 L427.35,115.94 L428.25,115.76 L429.14,115.59 L429.90,115.44 L430.93,115.24 L431.56,115.12 L432.73,114.90 L433.22,114.80 L434.52,114.55 L434.88,114.49 L436.31,114.21 L436.53,114.17 L438.10,113.87 L438.19,113.85 L439.85,113.54 L439.89,113.53 L441.50,113.22 L441.68,113.19 L443.16,112.91 L443.48,112.85 L444.82,112.60 L445.27,112.60 L447.06,112.64 L448.85,112.67 L450.64,112.71 L452.43,112.74 L454.23,112.78 L456.02,112.81 L457.81,112.85 L459.60,112.88 L461.39,112.91 L463.18,112.95 L464.98,112.98 L466.77,113.02 L468.56,113.05 L470.35,113.08 L472.14,113.12 L473.93,113.15 L475.73,113.18 L477.52,113.21 L479.31,113.25 L481.10,113.28 L482.89,113.31 L484.68,113.34 L486.48,113.38 L488.27,113.41 L490.06,113.44 L491.85,113.47 L493.64,113.50 L495.43,113.54 L497.23,113.57 L499.02,113.60 L500.81,113.63 L502.60,113.66" fill="none" stroke="#3C46F0" stroke-width="1.25" stroke-opacity="1"/>
<path d="M505,56 H512.4" stroke="#FF9A30" stroke-width="1.0"/>
<text x="517.50" y="57.78" font-size="6.73" textLength="14.26" lengthAdjust="spacingAndGlyphs" fill="#111" class="ns">50nM</text>
<path d="M505,65.4 H512.4" stroke="#C040F5" stroke-width="1.0"/>
<text x="517.50" y="67.18" font-size="6.73" textLength="14.26" lengthAdjust="spacingAndGlyphs" fill="#111" class="ns">25nM</text>
<path d="M505,74.8 H512.4" stroke="#30C830" stroke-width="1.0"/>
<text x="517.50" y="76.58" font-size="6.73" textLength="19.01" lengthAdjust="spacingAndGlyphs" fill="#111" class="ns">12.5nM</text>
<path d="M505,84.2 H512.4" stroke="#F23C3C" stroke-width="1.0"/>
<text x="517.50" y="85.98" font-size="6.73" textLength="19.01" lengthAdjust="spacingAndGlyphs" fill="#111" class="ns">6.25nM</text>
<path d="M505,93.6 H512.4" stroke="#3C46F0" stroke-width="1.0"/>
<text x="517.50" y="95.38" font-size="6.73" textLength="22.18" lengthAdjust="spacingAndGlyphs" fill="#111" class="ns">3.125nM</text>
<path d="M505,103.4 H512.4" stroke="#2a2a2a" stroke-width="1.0"/>
<text x="517.50" y="105.18" font-size="6.73" textLength="19.01" lengthAdjust="spacingAndGlyphs" fill="#111" class="ns">12.5nM</text>
<text x="9.82" y="172.0" font-size="22.7" fill="#000">D</text>
<text x="95" y="171" font-size="7.5" font-weight="bold" text-anchor="middle">SARS-CoV-2RBD-CR3022</text>
<text x="94.8" y="181.6" font-size="7.5" font-weight="bold" text-anchor="middle">ka(M<tspan dx="0.4" dy="-3.15" font-size="5.55">-1</tspan><tspan dx="0.3" dy="3.15">s</tspan><tspan dx="0.4" dy="-3.15" font-size="5.55">-1</tspan><tspan dx="0.3" dy="3.15">)=1.17E+06</tspan></text>
<text x="95" y="192.2" font-size="7.5" font-weight="bold" text-anchor="middle">kd(s<tspan dx="0.4" dy="-3.15" font-size="5.55">-1</tspan><tspan dx="0.3" dy="3.15">)=1.74E-02</tspan></text>
<text x="94.8" y="200.6" font-size="7.5" font-weight="bold" text-anchor="middle">KD (nM)=14.9</text>
<path d="M36.3,191.1 V268.9 H152.9" fill="none" stroke="#404040" stroke-width="1.15"/>
<text x="31.91" y="270.94" font-size="5.67" text-anchor="end" fill="#222" class="ns">0</text>
<text x="31.91" y="255.38" font-size="5.67" text-anchor="end" fill="#222" class="ns">20</text>
<text x="31.91" y="239.82" font-size="5.67" text-anchor="end" fill="#222" class="ns">40</text>
<text x="31.91" y="224.26" font-size="5.67" text-anchor="end" fill="#222" class="ns">60</text>
<text x="31.91" y="208.70" font-size="5.67" text-anchor="end" fill="#222" class="ns">80</text>
<text x="31.91" y="193.14" font-size="5.67" text-anchor="end" fill="#222" class="ns">100</text>
<text x="36.30" y="278.44" font-size="5.67" text-anchor="middle" fill="#222" class="ns">0</text>
<text x="65.45" y="278.44" font-size="5.67" text-anchor="middle" fill="#222" class="ns">50</text>
<text x="94.60" y="278.44" font-size="5.67" text-anchor="middle" fill="#222" class="ns">100</text>
<text x="123.75" y="278.44" font-size="5.67" text-anchor="middle" fill="#222" class="ns">150</text>
<text x="152.90" y="278.44" font-size="5.67" text-anchor="middle" fill="#222" class="ns">200</text>
<path d="M32.81,268.90 H36.3 M32.81,253.34 H36.3 M32.81,237.78 H36.3 M32.81,222.22 H36.3 M32.81,206.66 H36.3 M32.81,191.10 H36.3 M36.30,268.9 V271.69 M65.45,268.9 V271.69 M94.60,268.9 V271.69 M123.75,268.9 V271.69 M152.90,268.9 V271.69" stroke="#404040" stroke-width="0.98" fill="none"/>
<text x="94.60" y="288.6" font-size="7.5" font-weight="bold" text-anchor="middle">Time(s)</text>
<text transform="translate(18.5,229.8) rotate(-90)" x="0" y="0" font-size="7.5" font-weight="bold" text-anchor="middle">RU</text>
<path d="M36.30,268.90 L38.06,259.98 L38.24,259.17 L39.83,252.76 L40.19,251.46 L41.59,246.92 L42.13,245.36 L43.35,242.19 L44.07,240.53 L45.11,238.37 L46.02,236.70 L46.88,235.27 L47.96,233.67 L48.64,232.77 L49.90,231.27 L50.40,230.74 L51.85,229.37 L52.16,229.10 L53.79,227.86 L53.93,227.77 L55.69,226.70 L55.73,226.67 L57.45,225.83 L57.68,225.73 L59.21,225.12 L59.62,224.98 L60.98,224.55 L61.56,224.39 L62.74,224.09 L63.51,223.92 L64.50,223.72 L65.45,223.55 L66.26,223.42 L67.39,223.26 L68.03,223.17 L69.34,223.02 L69.79,222.98 L71.28,222.84 L71.55,222.82 L73.22,222.69 L73.31,222.69 L75.08,222.58 L75.17,222.58 L76.84,222.50 L77.11,222.49 L78.60,222.43 L79.05,222.41 L80.37,222.37 L81.00,222.36 L82.13,222.33 L82.94,222.31 L83.89,222.29 L84.88,222.28 L85.65,222.26 L86.83,222.25 L87.42,222.24 L88.77,222.22 L89.18,222.22 L90.71,226.28 L92.66,230.67 L94.60,234.38 L96.54,237.50 L98.49,240.15 L100.43,242.41 L102.37,244.35 L104.32,246.01 L106.26,247.44 L108.20,248.69 L110.15,249.79 L112.09,250.75 L114.03,251.61 L115.98,252.37 L117.92,253.06 L119.86,253.68 L121.81,254.25 L123.75,254.77 L125.69,255.25 L127.64,255.70 L129.58,256.12 L131.52,256.51 L133.47,256.88 L135.41,257.24 L137.35,257.57 L139.30,257.89 L141.24,258.19 L143.18,258.49 L145.13,258.77 L147.07,259.04 L149.01,259.30 L150.96,259.56 L152.90,259.80" fill="none" stroke="#FF9A30" stroke-width="1.25" stroke-opacity="1"/>
<path d="M36.30,268.90 L38.06,263.91 L38.24,263.44 L39.83,259.63 L40.19,258.82 L41.59,255.94 L42.13,254.91 L43.35,252.77 L44.07,251.60 L45.11,250.05 L46.02,248.80 L46.88,247.70 L47.96,246.43 L48.64,245.69 L49.90,244.42 L50.40,243.96 L51.85,242.72 L52.16,242.47 L53.79,241.28 L53.93,241.19 L55.69,240.09 L55.73,240.07 L57.45,239.15 L57.68,239.04 L59.21,238.33 L59.62,238.16 L60.98,237.64 L61.56,237.43 L62.74,237.03 L63.51,236.80 L64.50,236.52 L65.45,236.27 L66.26,236.07 L67.39,235.82 L68.03,235.69 L69.34,235.44 L69.79,235.36 L71.28,235.12 L71.55,235.08 L73.22,234.85 L73.31,234.84 L75.08,234.63 L75.17,234.62 L76.84,234.45 L77.11,234.43 L78.60,234.30 L79.05,234.26 L80.37,234.17 L81.00,234.12 L82.13,234.05 L82.94,234.00 L83.89,233.95 L84.88,233.90 L85.65,233.87 L86.83,233.82 L87.42,233.80 L88.77,233.75 L89.18,233.73 L90.71,236.79 L92.66,240.10 L94.60,242.89 L96.54,245.25 L98.49,247.24 L100.43,248.95 L102.37,250.40 L104.32,251.65 L106.26,252.74 L108.20,253.68 L110.15,254.50 L112.09,255.23 L114.03,255.87 L115.98,256.45 L117.92,256.97 L119.86,257.43 L121.81,257.86 L123.75,258.26 L125.69,258.62 L127.64,258.96 L129.58,259.27 L131.52,259.57 L133.47,259.85 L135.41,260.11 L137.35,260.36 L139.30,260.60 L141.24,260.83 L143.18,261.06 L145.13,261.27 L147.07,261.47 L149.01,261.67 L150.96,261.86 L152.90,262.05" fill="none" stroke="#C040F5" stroke-width="1.25" stroke-opacity="1"/>
<path d="M36.30,268.90 L38.06,266.51 L38.24,266.28 L39.83,264.36 L40.19,263.95 L41.59,262.43 L42.13,261.87 L43.35,260.69 L44.07,260.03 L45.11,259.13 L46.02,258.39 L46.88,257.72 L47.96,256.92 L48.64,256.45 L49.90,255.62 L50.40,255.31 L51.85,254.47 L52.16,254.29 L53.79,253.43 L53.93,253.37 L55.69,252.54 L55.73,252.52 L57.45,251.79 L57.68,251.70 L59.21,251.12 L59.62,250.98 L60.98,250.52 L61.56,250.33 L62.74,249.97 L63.51,249.76 L64.50,249.49 L65.45,249.24 L66.26,249.05 L67.39,248.79 L68.03,248.65 L69.34,248.38 L69.79,248.30 L71.28,248.02 L71.55,247.98 L73.22,247.70 L73.31,247.69 L75.08,247.43 L75.17,247.42 L76.84,247.20 L77.11,247.16 L78.60,246.99 L79.05,246.94 L80.37,246.80 L81.00,246.74 L82.13,246.63 L82.94,246.56 L83.89,246.48 L84.88,246.40 L85.65,246.34 L86.83,246.26 L87.42,246.22 L88.77,246.13 L89.18,246.10 L90.71,247.95 L92.66,249.95 L94.60,251.64 L96.54,253.08 L98.49,254.31 L100.43,255.36 L102.37,256.26 L104.32,257.04 L106.26,257.72 L108.20,258.32 L110.15,258.84 L112.09,259.31 L114.03,259.73 L115.98,260.11 L117.92,260.45 L119.86,260.76 L121.81,261.05 L123.75,261.31 L125.69,261.56 L127.64,261.79 L129.58,262.01 L131.52,262.22 L133.47,262.41 L135.41,262.60 L137.35,262.77 L139.30,262.94 L141.24,263.11 L143.18,263.26 L145.13,263.41 L147.07,263.56 L149.01,263.70 L150.96,263.84 L152.90,263.97" fill="none" stroke="#30C830" stroke-width="1.25" stroke-opacity="1"/>
<path d="M89.18,246.40 L90.71,248.25 L92.66,250.25 L94.60,251.94 L96.54,253.38 L98.49,254.61 L100.43,255.66 L102.37,256.56 L104.32,257.34 L106.26,258.02 L108.20,258.62 L110.15,259.14 L112.09,259.61 L114.03,260.03 L115.98,260.41 L117.92,260.75 L119.86,261.06 L121.81,261.35 L123.75,261.61 L125.69,261.86 L127.64,262.09 L129.58,262.31 L131.52,262.52 L133.47,262.71 L135.41,262.90 L137.35,263.07 L139.30,263.24 L141.24,263.41 L143.18,263.56 L145.13,263.71 L147.07,263.86 L149.01,264.00 L150.96,264.14 L152.90,264.27" fill="none" stroke="#2a2a2a" stroke-width="1.25" stroke-opacity="0.6"/>
<path d="M36.30,268.90 L38.06,267.62 L38.24,267.50 L39.83,266.45 L40.19,266.23 L41.59,265.39 L42.13,265.08 L43.35,264.41 L44.07,264.04 L45.11,263.53 L46.02,263.10 L46.88,262.71 L47.96,262.25 L48.64,261.97 L49.90,261.48 L50.40,261.29 L51.85,260.78 L52.16,260.68 L53.79,260.15 L53.93,260.11 L55.69,259.59 L55.73,259.58 L57.45,259.12 L57.68,259.07 L59.21,258.69 L59.62,258.60 L60.98,258.30 L61.56,258.18 L62.74,257.94 L63.51,257.79 L64.50,257.61 L65.45,257.45 L66.26,257.31 L67.39,257.14 L68.03,257.04 L69.34,256.85 L69.79,256.79 L71.28,256.60 L71.55,256.56 L73.22,256.36 L73.31,256.35 L75.08,256.16 L75.17,256.15 L76.84,255.99 L77.11,255.96 L78.60,255.83 L79.05,255.79 L80.37,255.69 L81.00,255.64 L82.13,255.55 L82.94,255.50 L83.89,255.43 L84.88,255.37 L85.65,255.32 L86.83,255.25 L87.42,255.22 L88.77,255.15 L89.18,255.13 L90.71,256.08 L92.66,257.11 L94.60,258.00 L96.54,258.76 L98.49,259.41 L100.43,259.98 L102.37,260.48 L104.32,260.91 L106.26,261.30 L108.20,261.64 L110.15,261.95 L112.09,262.23 L114.03,262.49 L115.98,262.72 L117.92,262.93 L119.86,263.13 L121.81,263.32 L123.75,263.49 L125.69,263.65 L127.64,263.81 L129.58,263.96 L131.52,264.10 L133.47,264.23 L135.41,264.36 L137.35,264.48 L139.30,264.60 L141.24,264.71 L143.18,264.83 L145.13,264.93 L147.07,265.04 L149.01,265.14 L150.96,265.23 L152.90,265.33" fill="none" stroke="#F23C3C" stroke-width="1.25" stroke-opacity="1"/>
<path d="M36.30,268.90 L38.06,268.21 L38.24,268.14 L39.83,267.56 L40.19,267.43 L41.59,266.96 L42.13,266.79 L43.35,266.41 L44.07,266.19 L45.11,265.90 L46.02,265.65 L46.88,265.42 L47.96,265.14 L48.64,264.98 L49.90,264.68 L50.40,264.57 L51.85,264.25 L52.16,264.19 L53.79,263.86 L53.93,263.84 L55.69,263.51 L55.73,263.50 L57.45,263.21 L57.68,263.17 L59.21,262.93 L59.62,262.87 L60.98,262.67 L61.56,262.58 L62.74,262.43 L63.51,262.33 L64.50,262.20 L65.45,262.09 L66.26,261.99 L67.39,261.87 L68.03,261.80 L69.34,261.67 L69.79,261.62 L71.28,261.48 L71.55,261.46 L73.22,261.31 L73.31,261.31 L75.08,261.16 L75.17,261.16 L76.84,261.03 L77.11,261.01 L78.60,260.91 L79.05,260.88 L80.37,260.80 L81.00,260.76 L82.13,260.69 L82.94,260.65 L83.89,260.59 L84.88,260.54 L85.65,260.50 L86.83,260.45 L87.42,260.42 L88.77,260.36 L89.18,260.34 L90.71,260.88 L92.66,261.47 L94.60,261.98 L96.54,262.41 L98.49,262.79 L100.43,263.13 L102.37,263.42 L104.32,263.68 L106.26,263.91 L108.20,264.12 L110.15,264.31 L112.09,264.48 L114.03,264.64 L115.98,264.79 L117.92,264.92 L119.86,265.05 L121.81,265.17 L123.75,265.28 L125.69,265.39 L127.64,265.49 L129.58,265.58 L131.52,265.68 L133.47,265.76 L135.41,265.85 L137.35,265.93 L139.30,266.01 L141.24,266.09 L143.18,266.16 L145.13,266.23 L147.07,266.30 L149.01,266.37 L150.96,266.43 L152.90,266.50" fill="none" stroke="#3C46F0" stroke-width="1.25" stroke-opacity="1"/>
<path d="M152.1,195.7 H160.4" stroke="#FF9A30" stroke-width="1.0"/>
<text x="165.20" y="197.61" font-size="7.32" textLength="15.51" lengthAdjust="spacingAndGlyphs" fill="#111" class="ns">50nM</text>
<path d="M152.1,206.8 H160.4" stroke="#C040F5" stroke-width="1.0"/>
<text x="165.20" y="208.71" font-size="7.32" textLength="15.51" lengthAdjust="spacingAndGlyphs" fill="#111" class="ns">25nM</text>
<path d="M152.1,217 H160.4" stroke="#30C830" stroke-width="1.0"/>
<text x="165.20" y="218.91" font-size="7.32" textLength="20.68" lengthAdjust="spacingAndGlyphs" fill="#111" class="ns">12.5nM</text>
<path d="M152.1,227.7 H160.4" stroke="#F23C3C" stroke-width="1.0"/>
<text x="165.20" y="229.61" font-size="7.32" textLength="20.68" lengthAdjust="spacingAndGlyphs" fill="#111" class="ns">6.25nM</text>
<path d="M152.1,238.3 H160.4" stroke="#3C46F0" stroke-width="1.0"/>
<text x="165.20" y="240.21" font-size="7.32" textLength="24.13" lengthAdjust="spacingAndGlyphs" fill="#111" class="ns">3.125nM</text>
<path d="M152.1,248.5 H160.4" stroke="#2a2a2a" stroke-width="1.0"/>
<text x="165.20" y="250.41" font-size="7.32" textLength="20.68" lengthAdjust="spacingAndGlyphs" fill="#111" class="ns">12.5nM</text>
<text x="194.34" y="168.0" font-size="22.7" fill="#000">E</text>
<text x="272.8" y="167.0" font-size="6.85" font-weight="bold" text-anchor="middle">SARS-CoV-2RBD-S103F(H)-S33R(L)</text>
<text x="273" y="176.8" font-size="7.1" font-weight="bold" text-anchor="middle">ka(M<tspan dx="0.4" dy="-2.98" font-size="5.25">-1</tspan><tspan dx="0.3" dy="2.98">s</tspan><tspan dx="0.4" dy="-2.98" font-size="5.25">-1</tspan><tspan dx="0.3" dy="2.98">)=2.28E+06</tspan></text>
<text x="273.7" y="186.6" font-size="7.1" font-weight="bold" text-anchor="middle">kd(s<tspan dx="0.4" dy="-2.98" font-size="5.25">-1</tspan><tspan dx="0.3" dy="2.98">)=2.28E-03</tspan></text>
<text x="273.7" y="194.5" font-size="7.0" font-weight="bold" text-anchor="middle">KD (nM)=0.99</text>
<path d="M218.6,194.7 V268.2 H327.8" fill="none" stroke="#404040" stroke-width="1.15"/>
<text x="214.50" y="270.07" font-size="5.20" text-anchor="end" fill="#222" class="ns">0</text>
<text x="214.50" y="255.37" font-size="5.20" text-anchor="end" fill="#222" class="ns">20</text>
<text x="214.50" y="240.67" font-size="5.20" text-anchor="end" fill="#222" class="ns">40</text>
<text x="214.50" y="225.97" font-size="5.20" text-anchor="end" fill="#222" class="ns">60</text>
<text x="214.50" y="211.27" font-size="5.20" text-anchor="end" fill="#222" class="ns">80</text>
<text x="214.50" y="196.57" font-size="5.20" text-anchor="end" fill="#222" class="ns">100</text>
<text x="218.60" y="277.37" font-size="5.20" text-anchor="middle" fill="#222" class="ns">0</text>
<text x="245.90" y="277.37" font-size="5.20" text-anchor="middle" fill="#222" class="ns">50</text>
<text x="273.20" y="277.37" font-size="5.20" text-anchor="middle" fill="#222" class="ns">100</text>
<text x="300.50" y="277.37" font-size="5.20" text-anchor="middle" fill="#222" class="ns">150</text>
<text x="327.80" y="277.37" font-size="5.20" text-anchor="middle" fill="#222" class="ns">200</text>
<path d="M215.40,268.20 H218.6 M215.40,253.50 H218.6 M215.40,238.80 H218.6 M215.40,224.10 H218.6 M215.40,209.40 H218.6 M215.40,194.70 H218.6 M218.60,268.2 V270.76 M245.90,268.2 V270.76 M273.20,268.2 V270.76 M300.50,268.2 V270.76 M327.80,268.2 V270.76" stroke="#404040" stroke-width="0.98" fill="none"/>
<text x="273.20" y="285.8" font-size="6.0" font-weight="bold" text-anchor="middle">Time(s)</text>
<text transform="translate(201.1,231.45) rotate(-90)" x="0" y="0" font-size="6.0" font-weight="bold" text-anchor="middle">RU</text>
<path d="M218.60,268.20 L220.28,256.95 L220.42,256.15 L221.97,248.20 L222.24,246.98 L223.65,241.40 L224.06,240.00 L225.33,236.14 L225.88,234.70 L227.02,232.06 L227.70,230.69 L228.70,228.92 L229.52,227.67 L230.38,226.51 L231.34,225.40 L232.07,224.67 L233.16,223.72 L233.75,223.27 L234.98,222.47 L235.44,222.22 L236.80,221.57 L237.12,221.44 L238.62,220.93 L238.80,220.88 L240.44,220.49 L240.49,220.48 L242.17,220.21 L242.26,220.19 L243.85,220.04 L244.08,220.02 L245.54,219.95 L245.90,219.94 L247.22,219.92 L247.72,219.92 L248.90,219.94 L249.54,219.96 L250.59,220.00 L251.36,220.04 L252.27,220.09 L253.18,220.14 L253.95,220.20 L255.00,220.28 L255.64,220.33 L256.82,220.43 L257.32,220.47 L258.64,220.59 L259.00,220.62 L260.46,220.76 L260.69,220.79 L262.28,220.95 L262.37,220.96 L264.05,221.13 L264.10,221.13 L265.74,221.31 L265.92,221.33 L267.42,221.49 L267.74,221.52 L269.11,221.67 L269.56,221.75 L271.38,222.04 L273.20,222.32 L275.02,222.61 L276.84,222.89 L278.66,223.17 L280.48,223.45 L282.30,223.73 L284.12,224.01 L285.94,224.28 L287.76,224.55 L289.58,224.83 L291.40,225.09 L293.22,225.36 L295.04,225.63 L296.86,225.89 L298.68,226.16 L300.50,226.42 L302.32,226.68 L304.14,226.94 L305.96,227.19 L307.78,227.45 L309.60,227.70 L311.42,227.95 L313.24,228.20 L315.06,228.45 L316.88,228.70 L318.70,228.94 L320.52,229.19 L322.34,229.43 L324.16,229.67 L325.98,229.91 L327.80,230.15" fill="none" stroke="#FF9A30" stroke-width="1.25" stroke-opacity="1"/>
<path d="M218.60,268.20 L220.28,261.13 L220.42,260.61 L221.97,255.16 L222.24,254.28 L223.65,250.12 L224.06,249.02 L225.33,245.87 L225.88,244.64 L227.02,242.28 L227.70,240.99 L228.70,239.25 L229.52,237.96 L230.38,236.70 L231.34,235.43 L232.07,234.54 L233.16,233.32 L233.75,232.72 L234.98,231.57 L235.44,231.18 L236.80,230.11 L237.12,229.88 L238.62,228.90 L238.80,228.79 L240.44,227.89 L240.49,227.86 L242.17,227.08 L242.26,227.05 L243.85,226.43 L244.08,226.35 L245.54,225.87 L245.90,225.76 L247.22,225.40 L247.72,225.28 L248.90,225.01 L249.54,224.87 L250.59,224.67 L251.36,224.54 L252.27,224.39 L253.18,224.26 L253.95,224.15 L255.00,224.02 L255.64,223.95 L256.82,223.83 L257.32,223.78 L258.64,223.67 L259.00,223.64 L260.46,223.53 L260.69,223.52 L262.28,223.42 L262.37,223.42 L264.05,223.33 L264.10,223.33 L265.74,223.26 L265.92,223.25 L267.42,223.20 L267.74,223.19 L269.11,223.14 L269.56,223.22 L271.38,223.53 L273.20,223.84 L275.02,224.15 L276.84,224.45 L278.66,224.76 L280.48,225.06 L282.30,225.35 L284.12,225.65 L285.94,225.94 L287.76,226.24 L289.58,226.53 L291.40,226.81 L293.22,227.10 L295.04,227.38 L296.86,227.67 L298.68,227.95 L300.50,228.22 L302.32,228.50 L304.14,228.77 L305.96,229.05 L307.78,229.32 L309.60,229.59 L311.42,229.85 L313.24,230.12 L315.06,230.38 L316.88,230.64 L318.70,230.90 L320.52,231.16 L322.34,231.41 L324.16,231.67 L325.98,231.92 L327.80,232.17" fill="none" stroke="#C040F5" stroke-width="1.25" stroke-opacity="1"/>
<path d="M218.60,268.20 L220.28,264.87 L220.42,264.61 L221.97,261.79 L222.24,261.31 L223.65,258.94 L224.06,258.28 L225.33,256.30 L225.88,255.48 L227.02,253.85 L227.70,252.91 L228.70,251.59 L229.52,250.55 L230.38,249.49 L231.34,248.37 L232.07,247.55 L233.16,246.37 L233.75,245.75 L234.98,244.53 L235.44,244.09 L236.80,242.83 L237.12,242.55 L238.62,241.27 L238.80,241.12 L240.44,239.84 L240.49,239.80 L242.17,238.58 L242.26,238.52 L243.85,237.45 L244.08,237.30 L245.54,236.40 L245.90,236.19 L247.22,235.43 L247.72,235.16 L248.90,234.54 L249.54,234.21 L250.59,233.70 L251.36,233.34 L252.27,232.94 L253.18,232.54 L253.95,232.22 L255.00,231.81 L255.64,231.56 L256.82,231.13 L257.32,230.95 L258.64,230.51 L259.00,230.39 L260.46,229.93 L260.69,229.86 L262.28,229.40 L262.37,229.38 L264.05,228.93 L264.10,228.92 L265.74,228.52 L265.92,228.47 L267.42,228.13 L267.74,228.06 L269.11,227.77 L269.56,227.85 L271.38,228.13 L273.20,228.41 L275.02,228.68 L276.84,228.96 L278.66,229.23 L280.48,229.51 L282.30,229.78 L284.12,230.04 L285.94,230.31 L287.76,230.57 L289.58,230.84 L291.40,231.10 L293.22,231.36 L295.04,231.61 L296.86,231.87 L298.68,232.12 L300.50,232.37 L302.32,232.62 L304.14,232.87 L305.96,233.12 L307.78,233.36 L309.60,233.61 L311.42,233.85 L313.24,234.09 L315.06,234.32 L316.88,234.56 L318.70,234.80 L320.52,235.03 L322.34,235.26 L324.16,235.49 L325.98,235.72 L327.80,235.94" fill="none" stroke="#30C830" stroke-width="1.25" stroke-opacity="1"/>
<path d="M218.60,268.20 L220.28,266.57 L220.42,266.44 L221.97,264.99 L222.24,264.74 L223.65,263.48 L224.06,263.12 L225.33,262.02 L225.88,261.55 L227.02,260.61 L227.70,260.05 L228.70,259.25 L229.52,258.61 L230.38,257.94 L231.34,257.22 L232.07,256.68 L233.16,255.89 L233.75,255.47 L234.98,254.61 L235.44,254.30 L236.80,253.38 L237.12,253.17 L238.62,252.20 L238.80,252.08 L240.44,251.07 L240.49,251.04 L242.17,250.03 L242.26,249.97 L243.85,249.06 L244.08,248.93 L245.54,248.12 L245.90,247.92 L247.22,247.21 L247.72,246.95 L248.90,246.34 L249.54,246.02 L250.59,245.51 L251.36,245.13 L252.27,244.70 L253.18,244.27 L253.95,243.92 L255.00,243.45 L255.64,243.17 L256.82,242.66 L257.32,242.44 L258.64,241.90 L259.00,241.75 L260.46,241.16 L260.69,241.08 L262.28,240.46 L262.37,240.43 L264.05,239.80 L264.10,239.79 L265.74,239.20 L265.92,239.14 L267.42,238.62 L267.74,238.52 L269.11,238.06 L269.56,238.12 L271.38,238.32 L273.20,238.52 L275.02,238.72 L276.84,238.92 L278.66,239.11 L280.48,239.31 L282.30,239.50 L284.12,239.69 L285.94,239.88 L287.76,240.07 L289.58,240.26 L291.40,240.45 L293.22,240.64 L295.04,240.82 L296.86,241.01 L298.68,241.19 L300.50,241.37 L302.32,241.55 L304.14,241.73 L305.96,241.91 L307.78,242.08 L309.60,242.26 L311.42,242.43 L313.24,242.60 L315.06,242.78 L316.88,242.95 L318.70,243.12 L320.52,243.28 L322.34,243.45 L324.16,243.62 L325.98,243.78 L327.80,243.95" fill="none" stroke="#F23C3C" stroke-width="1.25" stroke-opacity="1"/>
<path d="M218.60,268.20 L220.28,267.47 L220.42,267.41 L221.97,266.75 L222.24,266.64 L223.65,266.04 L224.06,265.87 L225.33,265.34 L225.88,265.11 L227.02,264.65 L227.70,264.37 L228.70,263.96 L229.52,263.63 L230.38,263.29 L231.34,262.91 L232.07,262.62 L233.16,262.19 L233.75,261.96 L234.98,261.48 L235.44,261.31 L236.80,260.78 L237.12,260.66 L238.62,260.09 L238.80,260.03 L240.44,259.42 L240.49,259.40 L242.17,258.78 L242.26,258.74 L243.85,258.17 L244.08,258.08 L245.54,257.56 L245.90,257.43 L247.22,256.96 L247.72,256.79 L248.90,256.37 L249.54,256.15 L250.59,255.79 L251.36,255.52 L252.27,255.21 L253.18,254.90 L253.95,254.64 L255.00,254.29 L255.64,254.08 L256.82,253.69 L257.32,253.53 L258.64,253.10 L259.00,252.98 L260.46,252.51 L260.69,252.44 L262.28,251.93 L262.37,251.90 L264.05,251.37 L264.10,251.36 L265.74,250.85 L265.92,250.79 L267.42,250.33 L267.74,250.24 L269.11,249.82 L269.56,249.85 L271.38,249.94 L273.20,250.03 L275.02,250.12 L276.84,250.21 L278.66,250.30 L280.48,250.39 L282.30,250.47 L284.12,250.56 L285.94,250.65 L287.76,250.74 L289.58,250.82 L291.40,250.91 L293.22,251.00 L295.04,251.08 L296.86,251.17 L298.68,251.25 L300.50,251.33 L302.32,251.42 L304.14,251.50 L305.96,251.58 L307.78,251.67 L309.60,251.75 L311.42,251.83 L313.24,251.91 L315.06,251.99 L316.88,252.07 L318.70,252.15 L320.52,252.23 L322.34,252.31 L324.16,252.39 L325.98,252.47 L327.80,252.54" fill="none" stroke="#3C46F0" stroke-width="1.25" stroke-opacity="1"/>
<path d="M330.5,199.9 H338.5" stroke="#FF9A30" stroke-width="1.0"/>
<text x="343.10" y="201.76" font-size="7.08" textLength="15.01" lengthAdjust="spacingAndGlyphs" fill="#111" class="ns">50nM</text>
<path d="M330.5,209.5 H338.5" stroke="#C040F5" stroke-width="1.0"/>
<text x="343.10" y="211.36" font-size="7.08" textLength="15.01" lengthAdjust="spacingAndGlyphs" fill="#111" class="ns">25nM</text>
<path d="M330.5,219.4 H338.5" stroke="#30C830" stroke-width="1.0"/>
<text x="343.10" y="221.26" font-size="7.08" textLength="20.01" lengthAdjust="spacingAndGlyphs" fill="#111" class="ns">12.5nM</text>
<path d="M330.5,229.4 H338.5" stroke="#F23C3C" stroke-width="1.0"/>
<text x="343.10" y="231.26" font-size="7.08" textLength="20.01" lengthAdjust="spacingAndGlyphs" fill="#111" class="ns">6.25nM</text>
<path d="M330.5,238.9 H338.5" stroke="#3C46F0" stroke-width="1.0"/>
<text x="343.10" y="240.76" font-size="7.08" textLength="23.35" lengthAdjust="spacingAndGlyphs" fill="#111" class="ns">3.125nM</text>
<path d="M330.5,248.9 H338.5" stroke="#2a2a2a" stroke-width="1.0"/>
<text x="343.10" y="250.76" font-size="7.08" textLength="20.01" lengthAdjust="spacingAndGlyphs" fill="#111" class="ns">12.5nM</text>
<text x="378.59" y="166.8" font-size="22.7" fill="#000">F</text>
<text x="449.3" y="166.9" font-size="6.7" font-weight="bold" text-anchor="middle">SARS-CoV-2RBD-S103Y(H)-S33R(L)</text>
<text x="451.4" y="176.8" font-size="7.15" font-weight="bold" text-anchor="middle">ka(M<tspan dx="0.4" dy="-3.0" font-size="5.29">-1</tspan><tspan dx="0.3" dy="3.0">s</tspan><tspan dx="0.4" dy="-3.0" font-size="5.29">-1</tspan><tspan dx="0.3" dy="3.0">)=2.15E+06</tspan></text>
<text x="451.7" y="186.7" font-size="7.05" font-weight="bold" text-anchor="middle">kd(s<tspan dx="0.4" dy="-2.96" font-size="5.22">-1</tspan><tspan dx="0.3" dy="2.96">)=2.47E-03</tspan></text>
<text x="451.6" y="194.5" font-size="7.0" font-weight="bold" text-anchor="middle">KD (nM)=1.15</text>
<path d="M396.6,196.1 V269.1 H505.8" fill="none" stroke="#777777" stroke-width="1.9"/>
<text x="393.00" y="271.16" font-size="5.72" text-anchor="end" fill="#222" class="ns">0</text>
<text x="393.00" y="256.56" font-size="5.72" text-anchor="end" fill="#222" class="ns">20</text>
<text x="393.00" y="241.96" font-size="5.72" text-anchor="end" fill="#222" class="ns">40</text>
<text x="393.00" y="227.36" font-size="5.72" text-anchor="end" fill="#222" class="ns">60</text>
<text x="393.00" y="212.76" font-size="5.72" text-anchor="end" fill="#222" class="ns">80</text>
<text x="393.00" y="198.16" font-size="5.72" text-anchor="end" fill="#222" class="ns">100</text>
<text x="396.60" y="278.26" font-size="5.72" text-anchor="middle" fill="#222" class="ns">0</text>
<text x="423.90" y="278.26" font-size="5.72" text-anchor="middle" fill="#222" class="ns">50</text>
<text x="451.20" y="278.26" font-size="5.72" text-anchor="middle" fill="#222" class="ns">100</text>
<text x="478.50" y="278.26" font-size="5.72" text-anchor="middle" fill="#222" class="ns">150</text>
<text x="505.80" y="278.26" font-size="5.72" text-anchor="middle" fill="#222" class="ns">200</text>
<path d="M393.40,269.10 H396.6 M393.40,254.50 H396.6 M393.40,239.90 H396.6 M393.40,225.30 H396.6 M393.40,210.70 H396.6 M393.40,196.10 H396.6 M396.60,269.1 V271.66 M423.90,269.1 V271.66 M451.20,269.1 V271.66 M478.50,269.1 V271.66 M505.80,269.1 V271.66" stroke="#777777" stroke-width="1.61" fill="none"/>
<text x="451.20" y="287.5" font-size="7.0" font-weight="bold" text-anchor="middle">Time(s)</text>
<text transform="translate(380.0,232.65) rotate(-90)" x="0" y="0" font-size="7.0" font-weight="bold" text-anchor="middle">RU</text>
<path d="M396.60,269.10 L398.28,252.78 L398.42,251.61 L399.96,240.43 L400.24,238.69 L401.64,231.11 L402.06,229.16 L403.32,224.07 L403.88,222.14 L405.00,218.77 L405.70,216.97 L406.68,214.79 L407.52,213.19 L408.36,211.80 L409.34,210.42 L410.04,209.57 L411.16,208.41 L411.72,207.92 L412.98,206.96 L413.40,206.69 L414.80,205.93 L415.08,205.80 L416.62,205.20 L416.76,205.16 L418.44,204.70 L418.44,204.70 L420.12,204.39 L420.26,204.37 L421.80,204.19 L422.08,204.16 L423.48,204.07 L423.90,204.05 L425.16,204.01 L425.72,204.00 L426.84,204.00 L427.54,204.01 L428.52,204.03 L429.36,204.05 L430.20,204.08 L431.18,204.12 L431.88,204.16 L433.00,204.22 L433.56,204.25 L434.82,204.32 L435.24,204.35 L436.64,204.44 L436.92,204.46 L438.46,204.57 L438.60,204.58 L440.28,204.70 L440.28,204.70 L441.96,204.83 L442.10,204.84 L443.64,204.96 L443.92,204.98 L445.32,205.09 L445.74,205.12 L447.00,205.22 L447.56,205.38 L449.38,205.90 L451.20,206.40 L453.02,206.91 L454.84,207.41 L456.66,207.90 L458.48,208.39 L460.30,208.88 L462.12,209.37 L463.94,209.85 L465.76,210.32 L467.58,210.79 L469.40,211.26 L471.22,211.73 L473.04,212.19 L474.86,212.65 L476.68,213.10 L478.50,213.55 L480.32,214.00 L482.14,214.44 L483.96,214.88 L485.78,215.31 L487.60,215.75 L489.42,216.17 L491.24,216.60 L493.06,217.02 L494.88,217.44 L496.70,217.85 L498.52,218.27 L500.34,218.67 L502.16,219.08 L503.98,219.48 L505.80,219.88" fill="none" stroke="#FF9A30" stroke-width="1.25" stroke-opacity="1"/>
<path d="M396.60,269.10 L398.28,261.78 L398.42,261.21 L399.96,255.31 L400.24,254.31 L401.64,249.59 L402.06,248.27 L403.32,244.54 L403.88,242.98 L405.00,240.06 L405.70,238.35 L406.68,236.11 L407.52,234.30 L408.36,232.61 L409.34,230.76 L410.04,229.52 L411.16,227.66 L411.72,226.79 L412.98,224.94 L413.40,224.37 L414.80,222.57 L415.08,222.23 L416.62,220.49 L416.76,220.34 L418.44,218.67 L418.44,218.67 L420.12,217.19 L420.26,217.08 L421.80,215.89 L422.08,215.68 L423.48,214.73 L423.90,214.46 L425.16,213.71 L425.72,213.40 L426.84,212.81 L427.54,212.46 L428.52,212.01 L429.36,211.65 L430.20,211.30 L431.18,210.93 L431.88,210.68 L433.00,210.30 L433.56,210.13 L434.82,209.76 L435.24,209.64 L436.64,209.28 L436.92,209.21 L438.46,208.86 L438.60,208.83 L440.28,208.49 L440.28,208.49 L441.96,208.19 L442.10,208.17 L443.64,207.93 L443.92,207.89 L445.32,207.69 L445.74,207.64 L447.00,207.49 L447.56,207.64 L449.38,208.12 L451.20,208.59 L453.02,209.06 L454.84,209.53 L456.66,210.00 L458.48,210.46 L460.30,210.92 L462.12,211.37 L463.94,211.82 L465.76,212.27 L467.58,212.71 L469.40,213.15 L471.22,213.59 L473.04,214.02 L474.86,214.45 L476.68,214.88 L478.50,215.30 L480.32,215.72 L482.14,216.14 L483.96,216.55 L485.78,216.96 L487.60,217.37 L489.42,217.77 L491.24,218.17 L493.06,218.57 L494.88,218.96 L496.70,219.35 L498.52,219.74 L500.34,220.13 L502.16,220.51 L503.98,220.89 L505.80,221.26" fill="none" stroke="#C040F5" stroke-width="1.25" stroke-opacity="1"/>
<path d="M396.60,269.10 L398.28,265.06 L398.42,264.74 L399.96,261.29 L400.24,260.69 L401.64,257.77 L402.06,256.92 L403.32,254.47 L403.88,253.42 L405.00,251.39 L405.70,250.17 L406.68,248.51 L407.52,247.15 L408.36,245.82 L409.34,244.34 L410.04,243.31 L411.16,241.73 L411.72,240.96 L412.98,239.30 L413.40,238.77 L414.80,237.05 L415.08,236.72 L416.62,234.95 L416.76,234.80 L418.44,233.01 L418.44,233.01 L420.12,231.33 L420.26,231.20 L421.80,229.77 L422.08,229.52 L423.48,228.31 L423.90,227.95 L425.16,226.94 L425.72,226.50 L426.84,225.66 L427.54,225.15 L428.52,224.47 L429.36,223.90 L430.20,223.35 L431.18,222.73 L431.88,222.31 L433.00,221.65 L433.56,221.34 L434.82,220.64 L435.24,220.42 L436.64,219.71 L436.92,219.57 L438.46,218.84 L438.60,218.78 L440.28,218.04 L440.28,218.03 L441.96,217.34 L442.10,217.28 L443.64,216.69 L443.92,216.59 L445.32,216.08 L445.74,215.94 L447.00,215.52 L447.56,215.64 L449.38,216.03 L451.20,216.41 L453.02,216.79 L454.84,217.17 L456.66,217.55 L458.48,217.92 L460.30,218.29 L462.12,218.66 L463.94,219.02 L465.76,219.39 L467.58,219.75 L469.40,220.10 L471.22,220.46 L473.04,220.81 L474.86,221.16 L476.68,221.51 L478.50,221.85 L480.32,222.19 L482.14,222.53 L483.96,222.87 L485.78,223.20 L487.60,223.54 L489.42,223.87 L491.24,224.19 L493.06,224.52 L494.88,224.84 L496.70,225.16 L498.52,225.48 L500.34,225.80 L502.16,226.11 L503.98,226.42 L505.80,226.73" fill="none" stroke="#30C830" stroke-width="1.25" stroke-opacity="1"/>
<path d="M396.60,269.10 L398.28,266.99 L398.42,266.82 L399.96,264.96 L400.24,264.63 L401.64,263.01 L402.06,262.53 L403.32,261.12 L403.88,260.51 L405.00,259.31 L405.70,258.57 L406.68,257.55 L407.52,256.70 L408.36,255.87 L409.34,254.91 L410.04,254.24 L411.16,253.19 L411.72,252.67 L412.98,251.53 L413.40,251.16 L414.80,249.94 L415.08,249.71 L416.62,248.42 L416.76,248.30 L418.44,246.95 L418.44,246.95 L420.12,245.65 L420.26,245.54 L421.80,244.39 L422.08,244.19 L423.48,243.18 L423.90,242.88 L425.16,242.02 L425.72,241.63 L426.84,240.89 L427.54,240.43 L428.52,239.81 L429.36,239.28 L430.20,238.76 L431.18,238.17 L431.88,237.76 L433.00,237.10 L433.56,236.79 L434.82,236.08 L435.24,235.85 L436.64,235.10 L436.92,234.95 L438.46,234.15 L438.60,234.08 L440.28,233.25 L440.28,233.24 L441.96,232.44 L442.10,232.37 L443.64,231.66 L443.92,231.53 L445.32,230.91 L445.74,230.73 L447.00,230.19 L447.56,230.27 L449.38,230.52 L451.20,230.77 L453.02,231.02 L454.84,231.27 L456.66,231.51 L458.48,231.75 L460.30,232.00 L462.12,232.24 L463.94,232.48 L465.76,232.71 L467.58,232.95 L469.40,233.18 L471.22,233.42 L473.04,233.65 L474.86,233.88 L476.68,234.10 L478.50,234.33 L480.32,234.56 L482.14,234.78 L483.96,235.00 L485.78,235.22 L487.60,235.44 L489.42,235.66 L491.24,235.88 L493.06,236.09 L494.88,236.31 L496.70,236.52 L498.52,236.73 L500.34,236.94 L502.16,237.15 L503.98,237.36 L505.80,237.56" fill="none" stroke="#F23C3C" stroke-width="1.25" stroke-opacity="1"/>
<path d="M396.60,269.10 L398.28,268.09 L398.42,268.00 L399.96,267.09 L400.24,266.92 L401.64,266.11 L402.06,265.86 L403.32,265.14 L403.88,264.82 L405.00,264.19 L405.70,263.79 L406.68,263.25 L407.52,262.79 L408.36,262.33 L409.34,261.79 L410.04,261.42 L411.16,260.82 L411.72,260.52 L412.98,259.86 L413.40,259.64 L414.80,258.91 L415.08,258.77 L416.62,257.99 L416.76,257.92 L418.44,257.07 L418.44,257.07 L420.12,256.24 L420.26,256.17 L421.80,255.43 L422.08,255.29 L423.48,254.62 L423.90,254.42 L425.16,253.83 L425.72,253.57 L426.84,253.05 L427.54,252.73 L428.52,252.28 L429.36,251.90 L430.20,251.53 L431.18,251.09 L431.88,250.78 L433.00,250.29 L433.56,250.05 L434.82,249.51 L435.24,249.33 L436.64,248.73 L436.92,248.62 L438.46,247.97 L438.60,247.92 L440.28,247.23 L440.28,247.22 L441.96,246.55 L442.10,246.49 L443.64,245.88 L443.92,245.77 L445.32,245.22 L445.74,245.06 L447.00,244.57 L447.56,244.61 L449.38,244.74 L451.20,244.86 L453.02,244.99 L454.84,245.12 L456.66,245.24 L458.48,245.36 L460.30,245.49 L462.12,245.61 L463.94,245.73 L465.76,245.85 L467.58,245.97 L469.40,246.09 L471.22,246.21 L473.04,246.33 L474.86,246.45 L476.68,246.57 L478.50,246.68 L480.32,246.80 L482.14,246.92 L483.96,247.03 L485.78,247.14 L487.60,247.26 L489.42,247.37 L491.24,247.48 L493.06,247.60 L494.88,247.71 L496.70,247.82 L498.52,247.93 L500.34,248.04 L502.16,248.15 L503.98,248.26 L505.80,248.37" fill="none" stroke="#3C46F0" stroke-width="1.25" stroke-opacity="1"/>
<path d="M507.3,200.3 H515.6" stroke="#FF9A30" stroke-width="1.0"/>
<text x="520.50" y="202.12" font-size="6.90" textLength="14.63" lengthAdjust="spacingAndGlyphs" fill="#111" class="ns">50nM</text>
<path d="M507.3,210.6 H515.6" stroke="#C040F5" stroke-width="1.0"/>
<text x="520.50" y="212.42" font-size="6.90" textLength="14.63" lengthAdjust="spacingAndGlyphs" fill="#111" class="ns">25nM</text>
<path d="M507.3,219.8 H515.6" stroke="#30C830" stroke-width="1.0"/>
<text x="520.50" y="221.62" font-size="6.90" textLength="19.51" lengthAdjust="spacingAndGlyphs" fill="#111" class="ns">12.5nM</text>
<path d="M507.3,230.1 H515.6" stroke="#F23C3C" stroke-width="1.0"/>
<text x="520.50" y="231.92" font-size="6.90" textLength="19.51" lengthAdjust="spacingAndGlyphs" fill="#111" class="ns">6.25nM</text>
<path d="M507.3,239.3 H515.6" stroke="#3C46F0" stroke-width="1.0"/>
<text x="520.50" y="241.12" font-size="6.90" textLength="22.76" lengthAdjust="spacingAndGlyphs" fill="#111" class="ns">3.125nM</text>
<path d="M507.3,249.6 H515.6" stroke="#2a2a2a" stroke-width="1.0"/>
<text x="520.50" y="251.42" font-size="6.90" textLength="19.51" lengthAdjust="spacingAndGlyphs" fill="#111" class="ns">12.5nM</text>
</svg></body></html>
